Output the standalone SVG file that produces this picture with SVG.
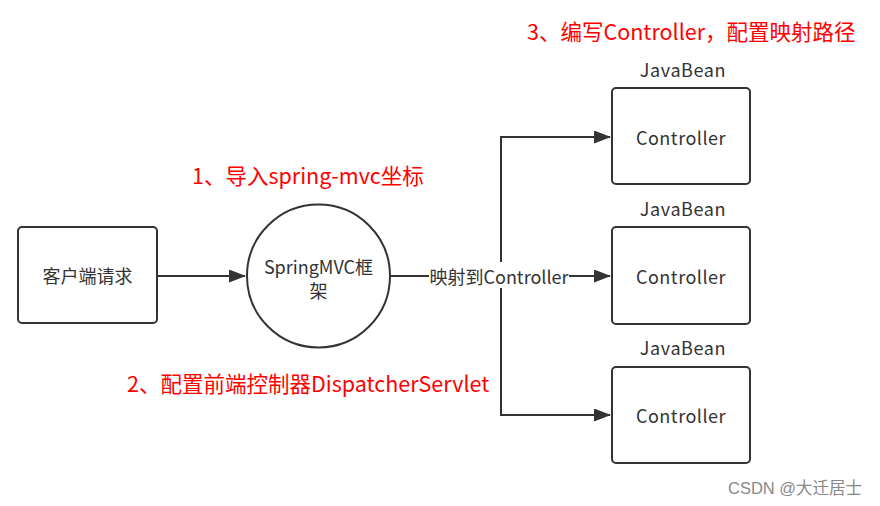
<svg xmlns="http://www.w3.org/2000/svg" width="880" height="506" viewBox="0 0 880 506">
<style>
.box{fill:#fff;stroke:#333;stroke-width:2}
.t{font-family:"Noto Sans CJK SC","Noto Sans",sans-serif;fill:#333;font-size:18px;text-anchor:middle;dominant-baseline:central}
.r{font-family:"Noto Sans CJK SC","Noto Sans",sans-serif;fill:#ff0000;font-size:21.5px;dominant-baseline:central}
.c{fill:none;stroke:#333;stroke-width:2}
</style>
<defs>
<marker id="ah" markerWidth="17" markerHeight="13" refX="16" refY="6.5" orient="auto" markerUnits="userSpaceOnUse">
<path d="M0,0 L17,6.5 L0,13 Z" fill="#333"/>
</marker>
</defs>
<rect width="880" height="506" fill="#fff"/>
<g id="connectors">
<path class="c" d="M157,276 H245" marker-end="url(#ah)"/>
<path class="c" d="M390,276 H429"/>
<path class="c" d="M569,276 H610" marker-end="url(#ah)"/>
<path class="c" d="M501,262 V137 H610" marker-end="url(#ah)"/>
<path class="c" d="M501,288 V415 H610" marker-end="url(#ah)"/>
<text class="t" x="499" y="276">映射到Controller</text>
</g>
<g id="client">
<rect class="box" x="18" y="227" width="139" height="96" rx="4"/>
<text class="t" x="87.5" y="275">客户端请求</text>
</g>
<g id="springmvc">
<circle class="box" cx="318.5" cy="276" r="71.5"/>
<text class="t" x="318.5" y="266">SpringMVC框</text>
<text class="t" x="318.5" y="290">架</text>
</g>
<g id="controller1">
<text class="t" x="683" y="69" letter-spacing="0.6">JavaBean</text>
<rect class="box" x="612" y="88" width="138" height="96" rx="4"/>
<text class="t" x="681" y="137" letter-spacing="0.5">Controller</text>
</g>
<g id="controller2">
<text class="t" x="683" y="208" letter-spacing="0.6">JavaBean</text>
<rect class="box" x="612" y="227" width="138" height="97" rx="4"/>
<text class="t" x="681" y="276" letter-spacing="0.5">Controller</text>
</g>
<g id="controller3">
<text class="t" x="683" y="347" letter-spacing="0.6">JavaBean</text>
<rect class="box" x="612" y="367" width="138" height="96" rx="4"/>
<text class="t" x="681" y="415" letter-spacing="0.5">Controller</text>
</g>
<g id="notes">
<text class="r" x="527" y="30">3、编写Controller，配置映射路径</text>
<text class="r" x="192" y="174">1、导入spring-mvc坐标</text>
<text class="r" x="127" y="382">2、配置前端控制器DispatcherServlet</text>
</g>
<text x="728" y="488" font-family="'Liberation Sans','Noto Sans CJK SC',sans-serif" font-size="16.5" fill="#888" dominant-baseline="central">CSDN @大迁居士</text>
</svg>
